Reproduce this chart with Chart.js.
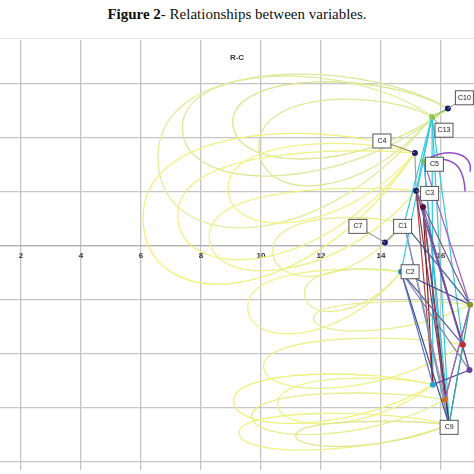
<!DOCTYPE html>
<html><head><meta charset="utf-8">
<script src="https://cdn.jsdelivr.net/npm/chart.js@4"></script>
<style>
body{margin:0;background:#fff;width:474px;height:474px;overflow:hidden;position:relative}
#t{position:absolute;top:6px;left:0;width:474px;text-align:center;font-family:"Liberation Serif",serif;font-size:15px;color:#111}
#s{position:absolute;top:53px;left:0;width:474px;text-align:center;font-family:"Liberation Sans",sans-serif;font-size:8px;font-weight:bold;color:#333}
#w{position:absolute;top:40px;left:0;width:474px;height:430px}
#line{position:absolute;top:38px;left:0;width:474px;height:1px;background:#e4e4e4}
</style></head><body>
<div id="t"><b>Figure 2</b>- Relationships between variables.</div>
<div id="line"></div>
<div id="w"><canvas id="c"></canvas></div>
<div id="s">R-C</div>
<script>
const xTicks=[2,4,6,8,10,12,14,16];
const nodeNames=["C10","C13","C4","C5","C3","C8","C1","C7","C2","C11","C12","C6","C14","C9","C15"];
const nodeX=[16.23,15.7,15.13,15.43,15.17,15.4,14.77,14.13,14.67,16.97,16.73,15.73,16.13,16.27,16.95];
const nodeY=[2.54,2.39,1.72,1.56,1.02,0.72,0.41,0.06,-0.48,-1.09,-1.83,-2.57,-2.85,-3.31,-2.3];
const nodeColors=["#1a1a6e","#8fd14f","#1a1a6e","#7fc46a","#1a1a6e","#5a1030","#30c0e0","#1a1a6e","#1a8ad0","#7a9a30","#c03030","#30a0d0","#d07020","#30b0d0","#7040a0"];
const labeled=["C10","C13","C4","C5","C3","C1","C7","C2","C9"];
const labelDX=[0.55,0.4,-1.1,0.35,0.45,-0.05,-0.9,0.3,0];
const labelDY=[0.2,-0.25,0.22,-0.05,-0.05,-0.05,0.3,0.0,-0.05];
const edgeFrom=[1,1,1,1,1,1,3,3,4,4,4,4,5,5,5,6,6,8,8,8,8,2,7,0,4,6,8,11,13,12,10,9,3,5];
const edgeTo=[6,8,13,11,10,4,13,12,11,13,10,9,11,13,12,9,13,9,13,11,10,4,6,1,14,12,14,14,9,9,13,12,9,14];
const edgeColors=["#30c8e0","#30c8e0","#30c8e0","#30c8e0","#30c8e0","#30c8e0","#40b8d8","#40b8d8","#c04040","#704060","#502030","#806080","#802020","#503040","#a04060","#3060a0","#6090b0","#404080","#3050a0","#6070c0","#5060a0","#a0a0a0","#909090","#7fbf4f","#8060c0","#9090c0","#8080a0","#6040a0","#30a060","#8050b0","#40a0c0","#9070c0","#a060d0","#7050a0"];
const loopNode=[0,0,1,1,2,2,2,4,6,8,8,11,11,12,13,13,10,9];
const loopLeft=[7.8,9.4,7.0,10.2,6.5,7.6,9.2,8.6,10.6,9.8,11.6,9.4,10.8,10.0,9.6,11.4,10.4,12.0];
const loopTop=[0.9,0.7,1.1,0.5,0.6,0.1,0.3,0.1,0.2,0.1,0.1,0.3,0.2,0.2,0.3,0.1,0.2,0.1];
const loopBottom=[1.6,1.2,2.6,1.6,3.0,2.4,1.6,1.8,1.2,1.4,0.9,0.9,0.9,0.8,0.6,0.5,1.0,0.6];
const loopColors=["#dbe89a","#d8e68e","#e2ec9e","#dde894","#f0f07a","#eef080","#f2f28a","#eef08a","#e8ee8e","#eef28c","#e4ec94","#eef27a","#f0f288","#e6ee8e","#eef088","#dfe890","#ecf08c","#e6ee92"];
const drawNet={id:'net',afterDatasetsDraw(ch){
 const c=ch.ctx,xs=ch.scales.x,ys=ch.scales.y;const px=i=>xs.getPixelForValue(nodeX[i]),py=i=>ys.getPixelForValue(nodeY[i]);
 c.save();c.beginPath();c.rect(ch.chartArea.left,ch.chartArea.top,ch.chartArea.width,ch.chartArea.height);c.clip();
 loopNode.forEach((n,k)=>{const x0=px(n),y0=py(n);const xl=x0+(xs.getPixelForValue(loopLeft[k])-x0)*1.05;
  const yt=ys.getPixelForValue(nodeY[n]+loopTop[k]),yb=ys.getPixelForValue(nodeY[n]-loopBottom[k]);
  c.strokeStyle=loopColors[k];c.lineWidth=1.3;c.beginPath();c.moveTo(x0,y0);c.bezierCurveTo(x0-(x0-xl)*0.3,yt,xl,yt,xl,(yt+yb)/2);c.bezierCurveTo(xl,yb,x0-(x0-xl)*0.4,yb,x0,y0);c.stroke();});
 edgeFrom.forEach((a,k)=>{const b=edgeTo[k];c.strokeStyle=edgeColors[k];c.lineWidth=1.2;c.beginPath();c.moveTo(px(a),py(a));c.lineTo(px(b),py(b));c.stroke();});
 c.strokeStyle="#9050c8";c.lineWidth=1.5;c.beginPath();c.moveTo(px(3),py(3));c.bezierCurveTo(px(3)+20,py(3)-15,px(3)+50,py(3)-10,px(9),py(3)+10);c.stroke();
 c.beginPath();c.moveTo(px(3),py(3));c.bezierCurveTo(px(3)+30,py(3)-8,px(3)+40,py(3)+5,px(9)-5,py(3)+30);c.stroke();
 nodeColors.forEach((col,i)=>{c.fillStyle=col;c.beginPath();c.arc(px(i),py(i),3,0,7);c.fill();});
 c.font="7px 'Liberation Sans'";c.textAlign="center";c.textBaseline="middle";
 labeled.forEach((nm,k)=>{const i=nodeNames.indexOf(nm);const lx=xs.getPixelForValue(nodeX[i]+labelDX[k]),ly=ys.getPixelForValue(nodeY[i]+labelDY[k]);
  c.strokeStyle="#888";c.lineWidth=1;c.beginPath();c.moveTo(lx,ly);c.lineTo(px(i),py(i));c.stroke();
  c.fillStyle="#fff";c.fillRect(lx-9,ly-7,18,14);c.strokeStyle="#555";c.strokeRect(lx-9,ly-7,18,14);c.fillStyle="#111";c.fillText(nm,lx,ly);});
 c.restore();}};
new Chart(document.getElementById('c'),{type:'scatter',data:{datasets:[{data:nodeX.map((x,i)=>({x,y:nodeY[i]})),pointRadius:0}]},
 options:{responsive:true,maintainAspectRatio:false,animation:false,layout:{padding:0},plugins:{legend:{display:false},tooltip:{enabled:false}},
 scales:{x:{type:'linear',min:1.3,max:17.1,position:{y:0},afterBuildTicks:s=>{s.ticks=xTicks.map(v=>({value:v}))},
   grid:{color:'#c4c4c4',lineWidth:1.3,drawTicks:false},border:{display:true,color:'#b0b0b0',width:1.3},ticks:{padding:5,font:{size:8,weight:'bold',family:'Liberation Sans'},color:'#333'}},
  y:{min:-4.15,max:3.81,afterBuildTicks:s=>{s.ticks=[-4,-3,-2,-1,0,1,2,3].map(v=>({value:v}))},grid:{color:'#c4c4c4',lineWidth:1.3,drawTicks:false},border:{display:false},ticks:{display:false}}}},
 plugins:[drawNet]});
</script></body></html>
